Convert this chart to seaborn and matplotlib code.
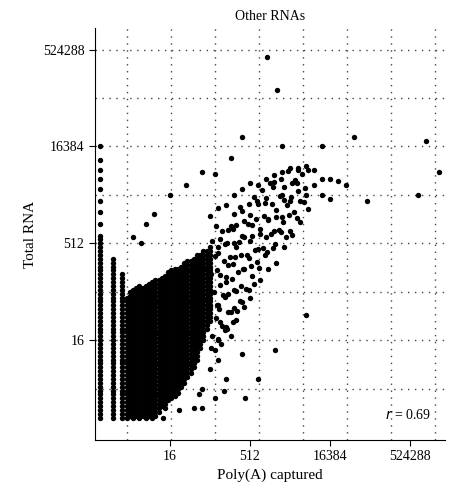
import numpy as np
import pandas as pd
import matplotlib.pyplot as plt
import seaborn as sns
from matplotlib.ticker import FixedLocator, NullLocator

# values, in log2 units
# the vertical strips at the smallest Poly(A) values: (log2 x, top log2 y)
strip_x = [-0.38, 0.44, 1.0]
strip_top = [9.5, 8.3, 7.5]
strip_extra = [[10.0, 10.6, 11.2, 11.8, 12.3, 12.8, 13.3, 14.0], [], []]
# dense core: log2 x column, low and high log2 y
core_x = [1.3, 1.5, 1.7, 1.9, 2.1, 2.3, 2.5, 2.7, 2.9, 3.1, 3.3, 3.5, 3.7, 3.9, 4.1, 4.3,
          4.5, 4.7, 4.9, 5.1, 5.3, 5.5, 5.7, 5.9, 6.1, 6.3, 6.5]
core_lo = [0, 0, 0, 0, 0, 0, 0, 0, 0, 0, 0.3, 0.5, 0.5, 0.8, 1.0, 1.0,
           1.3, 1.5, 1.8, 2.0, 2.3, 2.5, 3.0, 3.5, 4.0, 4.5, 5.0]
core_hi = [6.3, 6.5, 6.6, 6.7, 6.8, 6.8, 6.9, 7.0, 7.0, 7.1, 7.2, 7.3, 7.4, 7.5, 7.6, 7.7,
           7.8, 7.9, 8.0, 8.1, 8.2, 8.3, 8.4, 8.5, 8.6, 8.7, 8.8]
# looser cloud along the diagonal
halo_x = [6.8, 7.3, 7.8, 8.3, 8.8, 9.3, 9.8, 10.3, 10.8, 11.3, 11.8, 12.3]
halo_lo = [3.5, 4.0, 4.5, 5.2, 6.0, 6.8, 7.5, 8.0, 8.6, 9.2, 9.8, 10.3]
halo_hi = [9.8, 10.2, 10.6, 11.0, 11.3, 11.6, 11.9, 12.2, 12.5, 12.7, 12.9, 12.9]
halo_dx = [0.0, 0.23, -0.15, 0.31, 0.08, -0.27, 0.17, -0.05, 0.36, -0.2, 0.12]
halo_dy = [0.0, 0.12, -0.1, 0.2, -0.05, 0.15, -0.18, 0.07]
# scattered outliers
sparse_x = [6.5, 7, 7.5, 8, 8, 8.5, 9, 9.5, 10, 10.5, 11, 11, 11.5, 12, 12.5, 12.5, 13, 13,
            13.5, 13.5, 14, 14, 14.5, 15, 16.3, 19.5, 20, 20.8, 15.5, 13.5, 11, 7.8, 8.5,
            6.8, 5, 6, 4, 3, 2.5, 1.7, 10.1, 10.7, 12.5, 7.5, 8.5, 9.5, 8.7, 6, 5.5, 10.6,
            7, 6.5, 7.5, 6, 7.2, 7.8, 8.2, 6.8, 7.4, 9.0, 5.8, 6.6, 7.0, 3.6, 4.6, 2.2]
sparse_y = [10.4, 10.8, 11, 11.5, 9, 11.8, 12.1, 12.0, 12.3, 12.5, 11.5, 12.7, 12.9, 12.8,
            13, 11.5, 12, 12.8, 12.3, 11.5, 12.3, 11.3, 12.2, 12, 11.2, 11.5, 14.3, 12.7,
            14.5, 14.0, 14, 13.4, 14.5, 12.6, 12, 12.7, 11.5, 10.5, 10, 9.3, 18.6, 16.9,
            5.3, 4.7, 3.3, 2, 1, 1.5, 0.5, 3.5, 3, 2.5, 2, 0.5, 3.8, 4.2, 5.5, 1.0, 1.4,
            6.2, 1.2, 3.6, 5.8, 0.0, 0.4, 9.0]

px, py = [], []
for x, top, extra in zip(strip_x, strip_top, strip_extra):
    for y in list(np.arange(0, top + 0.01, 0.2)) + extra:
        px.append(x); py.append(y)
for i, (x, lo, hi) in enumerate(zip(core_x, core_lo, core_hi)):
    for y in np.arange(lo + 0.1 * (i % 2), hi + 0.01, 0.2):
        px.append(x); py.append(y)
k = 0
for i, (x, lo, hi) in enumerate(zip(halo_x, halo_lo, halo_hi)):
    for y in np.arange(lo, hi + 0.01, 0.42):
        px.append(x + halo_dx[k % len(halo_dx)])
        py.append(y + halo_dy[k % len(halo_dy)])
        k += 1
px += sparse_x; py += sparse_y

df = pd.DataFrame({"polya": np.power(2.0, px), "total": np.power(2.0, py)})

plt.rcParams['font.family'] = ['Liberation Serif', 'DejaVu Serif']
fig = plt.figure(figsize=(4.74, 5.04), dpi=100)
ax = fig.add_axes([0.2, 0.127, 0.739, 0.817])
sns.scatterplot(data=df, x="polya", y="total", color="black", s=15, linewidth=0, ax=ax)
ax.set_xscale("log", base=2)
ax.set_yscale("log", base=2)
ax.set_xlim(2 ** -0.69, 2 ** 21.2)
ax.set_ylim(2 ** -1.15, 2 ** 20.1)

ticks = [16, 512, 16384, 524288]
ax.xaxis.set_major_locator(FixedLocator(ticks))
ax.yaxis.set_major_locator(FixedLocator(ticks))
ax.set_xticklabels([str(t) for t in ticks])
ax.set_yticklabels([str(t) for t in ticks])
ax.xaxis.set_minor_locator(NullLocator())
ax.yaxis.set_minor_locator(NullLocator())
ax.tick_params(labelsize=10, direction="out", length=4)

for g in np.arange(-1.4, 21.2, 2.75):
    ax.axvline(2 ** g, color="#444444", ls=(0, (1, 4)), lw=1.0, zorder=0)
for g in np.arange(1.5, 20.1, 2.5):
    ax.axhline(2 ** g, color="#444444", ls=(0, (1, 4)), lw=1.0, zorder=0)

for side in ["top", "right"]:
    ax.spines[side].set_visible(False)
ax.set_xlabel("Poly(A) captured", fontsize=11)
ax.set_ylabel("Total RNA", fontsize=11)
ax.set_title("Other RNAs", fontsize=10, pad=6)
ax.text(0.96, 0.05, "$r$ = 0.69", transform=ax.transAxes, ha="right", fontsize=10)

fig.savefig("out.png", dpi=100)
